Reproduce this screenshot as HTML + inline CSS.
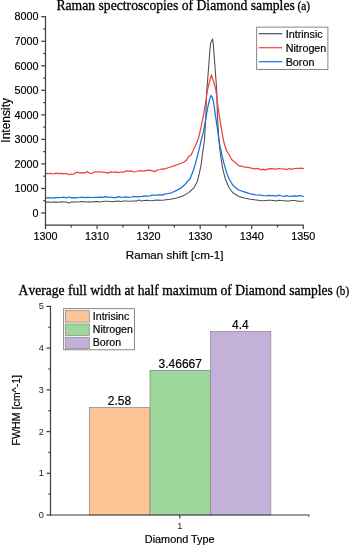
<!DOCTYPE html>
<html><head><meta charset="utf-8"><title>Diamond samples</title>
<style>
html,body{margin:0;padding:0;background:#fff}
svg{display:block}
text{font-family:"Liberation Sans",Arial,sans-serif;fill:#000;stroke:#000;stroke-width:0.18px}
.ser{font-family:"Liberation Serif","Times New Roman",serif;font-size:15px;fill:#000;stroke-width:0.3px}
.thin text{stroke:none;fill:#1a1a1a}
.ax line{stroke:#3d3d3d;stroke-width:1.2}
</style></head><body>
<svg width="350" height="545" viewBox="0 0 350 545">
<rect width="350" height="545" fill="#fff"/>
<text class="ser" x="56.4" y="10.3" textLength="238.4" lengthAdjust="spacingAndGlyphs">Raman spectroscopies of Diamond samples</text>
<text class="ser" style="font-size:12.8px" x="297.5" y="10.3" textLength="12.6" lengthAdjust="spacingAndGlyphs">(a)</text>
<g fill="none" stroke-width="1.25" stroke-linejoin="round">
<path d="M45.5,202.8 L48.1,201.7 L50.7,202.4 L53.3,202.1 L55.9,202.1 L58.5,202.2 L61.1,201.7 L63.7,202.1 L66.3,201.9 L68.9,202.9 L71.5,202.1 L74.1,202.0 L76.7,201.9 L79.3,201.8 L81.9,201.6 L84.5,201.7 L87.1,201.9 L89.7,201.7 L92.3,201.9 L94.9,201.6 L97.5,201.6 L100.1,201.9 L102.7,201.6 L105.3,201.3 L107.9,201.3 L110.5,201.4 L113.1,201.8 L115.7,201.2 L118.3,201.1 L120.9,201.4 L123.5,200.9 L126.1,201.0 L128.7,201.2 L131.3,201.1 L133.9,200.9 L136.5,201.0 L139.1,200.1 L141.7,201.0 L144.3,200.4 L146.9,200.2 L149.5,200.6 L152.1,200.7 L154.7,200.3 L157.3,200.1 L159.9,200.3 L162.5,200.2 L164.0,200.1 L170.3,199.2 L176.6,198.1 L182.9,196.0 L189.1,192.4 L194.2,187.3 L197.3,181.5 L199.2,173.9 L201.1,165.1 L202.3,155.1 L203.6,146.3 L204.5,140.0 L205.8,117.5 L206.6,92.9 L207.6,80.3 L208.6,67.7 L209.5,55.1 L210.5,43.8 L212.6,39.0 L213.3,43.8 L214.1,55.1 L215.1,67.7 L216.0,80.3 L216.8,92.9 L217.5,117.5 L218.9,140.0 L219.7,147.5 L220.9,157.6 L222.8,168.9 L225.3,179.0 L229.1,187.8 L232.9,192.8 L238.5,196.3 L244.2,198.1 L250.5,199.3 L258.0,200.2 L260.6,200.5 L263.2,200.7 L265.8,200.5 L268.4,200.3 L271.0,200.3 L273.6,200.4 L276.2,201.0 L278.8,200.3 L281.4,200.6 L284.0,200.7 L286.6,200.9 L289.2,201.0 L291.8,200.6 L294.4,200.5 L297.0,200.9 L299.6,201.3 L302.2,201.2 L303.8,201.1" stroke="#4d4d4d" stroke-width="1.05"/>
<path d="M45.5,173.4 L48.1,173.7 L50.7,173.4 L53.3,174.0 L55.9,173.1 L58.5,173.6 L61.1,173.4 L63.7,173.7 L66.3,173.5 L68.9,174.6 L71.5,174.0 L74.1,174.0 L76.7,172.1 L79.3,172.9 L81.9,172.7 L84.5,173.1 L87.1,171.6 L89.7,173.3 L92.3,173.1 L94.9,171.8 L97.5,171.9 L100.1,171.9 L102.7,172.2 L105.3,172.4 L107.9,173.1 L110.5,171.9 L113.1,172.3 L115.7,171.9 L118.3,172.6 L120.9,172.0 L123.5,172.2 L126.1,170.9 L128.7,171.3 L131.3,170.9 L133.9,172.0 L136.5,171.5 L139.1,170.9 L141.7,170.8 L144.3,171.1 L146.9,170.4 L149.5,170.2 L152.1,170.8 L154.7,171.6 L157.3,170.0 L159.9,169.5 L162.5,168.9 L164.0,169.2 L169.0,167.5 L174.0,165.9 L179.1,164.0 L184.1,162.0 L186.6,160.1 L188.5,156.5 L191.0,155.1 L192.9,151.3 L195.4,145.7 L197.9,140.0 L199.4,134.6 L202.6,119.7 L205.3,104.9 L207.5,90.0 L208.9,84.0 L211.4,74.9 L213.9,82.8 L215.9,90.0 L217.7,104.9 L219.9,119.7 L222.4,134.6 L223.4,140.0 L224.7,145.0 L226.6,150.7 L229.1,154.5 L231.6,159.5 L234.7,162.0 L238.5,165.6 L244.2,166.8 L249.2,167.7 L254.2,168.9 L258.0,168.4 L260.6,169.7 L263.2,169.3 L265.8,169.9 L268.4,168.8 L271.0,168.6 L273.6,168.9 L276.2,169.2 L278.8,168.5 L281.4,169.0 L284.0,168.8 L286.6,169.6 L289.2,168.5 L291.8,169.3 L294.4,168.5 L297.0,168.3 L299.6,168.4 L302.2,168.2 L303.8,168.9" stroke="#F14040"/>
<path d="M45.5,198.0 L48.1,197.7 L50.7,197.9 L53.3,198.2 L55.9,197.7 L58.5,197.7 L61.1,197.5 L63.7,197.1 L66.3,197.8 L68.9,197.0 L71.5,197.8 L74.1,197.6 L76.7,197.9 L79.3,197.5 L81.9,197.2 L84.5,197.6 L87.1,197.3 L89.7,197.4 L92.3,197.5 L94.9,197.4 L97.5,197.4 L100.1,197.1 L102.7,197.3 L105.3,196.7 L107.9,197.3 L110.5,197.0 L113.1,197.7 L115.7,197.7 L118.3,196.7 L120.9,197.3 L123.5,197.2 L126.1,196.9 L128.7,197.4 L131.3,197.0 L133.9,196.4 L136.5,196.8 L139.1,196.6 L141.7,196.5 L144.3,195.8 L146.9,196.2 L149.5,196.0 L152.1,195.2 L154.7,195.1 L157.3,195.1 L159.9,194.7 L162.5,195.1 L164.0,194.3 L167.8,193.5 L171.5,192.8 L176.6,190.4 L180.3,188.4 L184.1,185.3 L190.2,178.5 L193.4,170.2 L195.7,162.6 L198.0,153.8 L199.8,146.3 L201.3,140.0 L203.5,131.6 L206.1,116.7 L208.3,104.9 L210.0,98.0 L211.2,95.6 L212.4,97.5 L213.5,101.9 L215.0,112.3 L217.2,127.1 L219.0,140.0 L220.3,147.5 L222.2,156.3 L224.1,163.9 L226.6,172.7 L229.1,179.0 L232.9,185.3 L238.5,190.0 L244.2,191.9 L250.5,193.9 L256.1,195.0 L260.6,195.1 L263.2,195.5 L265.8,196.0 L268.4,195.4 L271.0,195.6 L273.6,195.6 L276.2,196.1 L278.8,195.2 L281.4,196.0 L284.0,196.3 L286.6,195.7 L289.2,196.5 L291.8,196.2 L294.4,195.9 L297.0,196.2 L299.6,195.7 L302.2,196.0 L303.8,196.8" stroke="#1A6FDF"/>
</g>
<g class="ax">
<line x1="45.5" x2="45.5" y1="16.08" y2="225.79999999999998"/>
<line x1="44.9" x2="303.90" y1="225.2" y2="225.2"/>
<line x1="41.2" x2="45.5" y1="213.00" y2="213.00"/>
<line x1="43.2" x2="45.5" y1="200.73" y2="200.73"/>
<line x1="41.2" x2="45.5" y1="188.46" y2="188.46"/>
<line x1="43.2" x2="45.5" y1="176.19" y2="176.19"/>
<line x1="41.2" x2="45.5" y1="163.92" y2="163.92"/>
<line x1="43.2" x2="45.5" y1="151.65" y2="151.65"/>
<line x1="41.2" x2="45.5" y1="139.38" y2="139.38"/>
<line x1="43.2" x2="45.5" y1="127.11" y2="127.11"/>
<line x1="41.2" x2="45.5" y1="114.84" y2="114.84"/>
<line x1="43.2" x2="45.5" y1="102.57" y2="102.57"/>
<line x1="41.2" x2="45.5" y1="90.30" y2="90.30"/>
<line x1="43.2" x2="45.5" y1="78.03" y2="78.03"/>
<line x1="41.2" x2="45.5" y1="65.76" y2="65.76"/>
<line x1="43.2" x2="45.5" y1="53.49" y2="53.49"/>
<line x1="41.2" x2="45.5" y1="41.22" y2="41.22"/>
<line x1="43.2" x2="45.5" y1="28.95" y2="28.95"/>
<line x1="41.2" x2="45.5" y1="16.68" y2="16.68"/>
<line x1="45.50" x2="45.50" y1="225.2" y2="229.0"/>
<line x1="71.28" x2="71.28" y1="225.2" y2="227.39999999999998"/>
<line x1="97.06" x2="97.06" y1="225.2" y2="229.0"/>
<line x1="122.84" x2="122.84" y1="225.2" y2="227.39999999999998"/>
<line x1="148.62" x2="148.62" y1="225.2" y2="229.0"/>
<line x1="174.40" x2="174.40" y1="225.2" y2="227.39999999999998"/>
<line x1="200.18" x2="200.18" y1="225.2" y2="229.0"/>
<line x1="225.96" x2="225.96" y1="225.2" y2="227.39999999999998"/>
<line x1="251.74" x2="251.74" y1="225.2" y2="229.0"/>
<line x1="277.52" x2="277.52" y1="225.2" y2="227.39999999999998"/>
<line x1="303.30" x2="303.30" y1="225.2" y2="229.0"/>
</g>
<g font-size="10.8px">
<text x="38.5" y="216.80" text-anchor="end">0</text>
<text x="38.5" y="192.26" text-anchor="end">1000</text>
<text x="38.5" y="167.72" text-anchor="end">2000</text>
<text x="38.5" y="143.18" text-anchor="end">3000</text>
<text x="38.5" y="118.64" text-anchor="end">4000</text>
<text x="38.5" y="94.10" text-anchor="end">5000</text>
<text x="38.5" y="69.56" text-anchor="end">6000</text>
<text x="38.5" y="45.02" text-anchor="end">7000</text>
<text x="38.5" y="20.48" text-anchor="end">8000</text>
<text x="45.50" y="240.4" text-anchor="middle">1300</text>
<text x="97.06" y="240.4" text-anchor="middle">1310</text>
<text x="148.62" y="240.4" text-anchor="middle">1320</text>
<text x="200.18" y="240.4" text-anchor="middle">1330</text>
<text x="251.74" y="240.4" text-anchor="middle">1340</text>
<text x="303.30" y="240.4" text-anchor="middle">1350</text>
</g>
<text font-size="12px" transform="translate(10.2,120.3) rotate(-90)" text-anchor="middle">Intensity</text>
<text font-size="11.65px" x="174.6" y="258.6" text-anchor="middle">Raman shift [cm-1]</text>
<rect x="256.7" y="27.1" width="71.2" height="42.3" fill="#fff" stroke="#6a6a6a" stroke-width="0.8"/>
<g stroke-width="1.2">
<line x1="258.7" x2="282.3" y1="33.7" y2="33.7" stroke="#4d4d4d"/>
<line x1="258.7" x2="282.3" y1="47.7" y2="47.7" stroke="#F14040"/>
<line x1="258.7" x2="282.3" y1="61.7" y2="61.7" stroke="#1A6FDF"/>
</g>
<g font-size="10.75px">
<text x="285.7" y="38.0">Intrinsic</text>
<text x="285.7" y="51.8">Nitrogen</text>
<text x="285.7" y="65.6">Boron</text>
</g>

<text class="ser" style="font-size:13.8px;font-kerning:none" x="18.6" y="295.3" textLength="314.3" lengthAdjust="spacingAndGlyphs">Average full width at half maximum of Diamond samples</text>
<text class="ser" style="font-size:12.8px" x="336.2" y="295.3" textLength="12.9" lengthAdjust="spacingAndGlyphs">(b)</text>
<rect x="89.4" y="407.36" width="60.60" height="107.64" fill="#FDC696" stroke="#8a8a8a" stroke-width="0.75"/>
<rect x="150" y="370.37" width="60.60" height="144.63" fill="#9DD79B" stroke="#8a8a8a" stroke-width="0.75"/>
<rect x="210.6" y="331.43" width="60.20" height="183.57" fill="#C3B1DA" stroke="#8a8a8a" stroke-width="0.75"/>
<g class="ax">
<line x1="50.5" x2="50.5" y1="305.80" y2="515.6"/>
<line x1="50.0" x2="309.3" y1="515.0" y2="515.0"/>
<line x1="308.8" x2="308.8" y1="515.0" y2="516.5"/>
<line x1="46.5" x2="50.5" y1="515.00" y2="515.00"/>
<line x1="48.3" x2="50.5" y1="494.14" y2="494.14"/>
<line x1="46.5" x2="50.5" y1="473.28" y2="473.28"/>
<line x1="48.3" x2="50.5" y1="452.42" y2="452.42"/>
<line x1="46.5" x2="50.5" y1="431.56" y2="431.56"/>
<line x1="48.3" x2="50.5" y1="410.70" y2="410.70"/>
<line x1="46.5" x2="50.5" y1="389.84" y2="389.84"/>
<line x1="48.3" x2="50.5" y1="368.98" y2="368.98"/>
<line x1="46.5" x2="50.5" y1="348.12" y2="348.12"/>
<line x1="48.3" x2="50.5" y1="327.26" y2="327.26"/>
<line x1="46.5" x2="50.5" y1="306.40" y2="306.40"/>
<line x1="179.8" x2="179.8" y1="515.0" y2="518.6"/>
</g>
<g font-size="9.2px" class="thin">
<text x="43.9" y="518.00" text-anchor="end">0</text>
<text x="43.9" y="476.28" text-anchor="end">1</text>
<text x="43.9" y="434.56" text-anchor="end">2</text>
<text x="43.9" y="392.84" text-anchor="end">3</text>
<text x="43.9" y="351.12" text-anchor="end">4</text>
<text x="43.9" y="309.40" text-anchor="end">5</text>
<text x="179.8" y="528.8" text-anchor="middle">1</text>
</g>
<g font-size="12px" text-anchor="middle">
<text x="119.5" y="404.9">2.58</text>
<text x="180.3" y="368">3.46667</text>
<text x="240.4" y="329.1">4.4</text>
</g>
<text font-size="10.65px" transform="translate(20.2,410.3) rotate(-90)" text-anchor="middle">FWHM [cm^-1]</text>
<text font-size="10.85px" x="179.7" y="542.7" text-anchor="middle">Diamond Type</text>
<rect x="63.7" y="308.7" width="70.7" height="41.1" fill="#fff" stroke="#6a6a6a" stroke-width="0.8"/>
<g stroke="#8a8a8a" stroke-width="0.75">
<rect x="65.4" y="310.7" width="23.9" height="11.4" fill="#FDC696"/>
<rect x="65.4" y="324.0" width="23.9" height="11.4" fill="#9DD79B"/>
<rect x="65.4" y="337.3" width="23.9" height="11.2" fill="#C3B1DA"/>
</g>
<g font-size="10.6px">
<text x="92.8" y="319.9">Intrisinc</text>
<text x="92.8" y="333.1">Nitrogen</text>
<text x="92.8" y="346.4">Boron</text>
</g>
</svg>
</body></html>
